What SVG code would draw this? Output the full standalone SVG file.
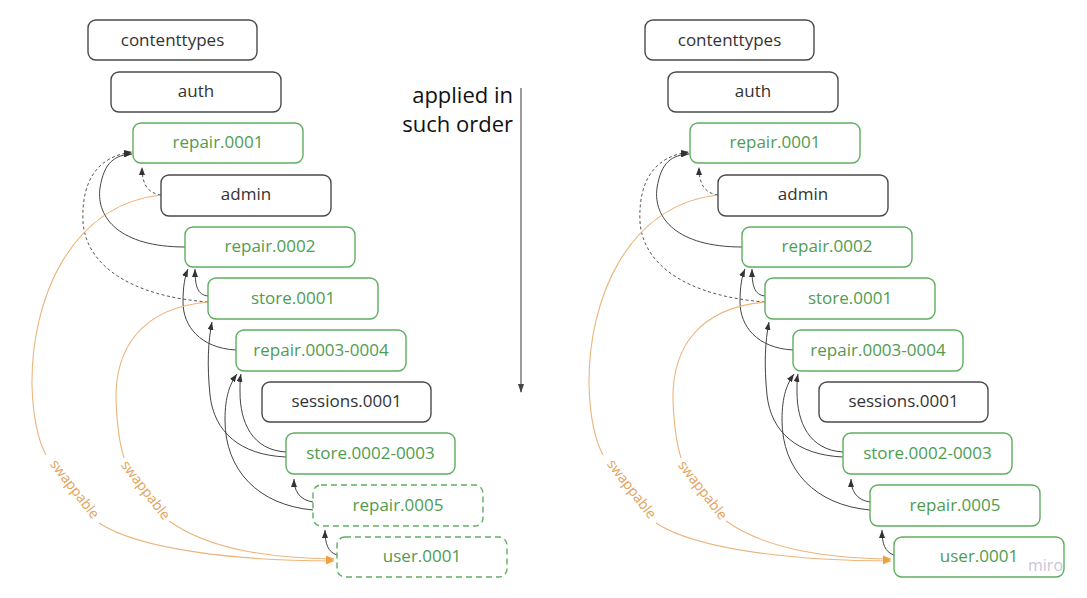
<svg xmlns="http://www.w3.org/2000/svg" width="1087" height="598" viewBox="0 0 1087 598">
<style>
.n rect{fill:#fff;stroke-width:1.4}
.g rect{stroke:#5fae5f}
.g text{fill:#4f9c4f}
.d rect{stroke:#4a4a4a}
.d text{fill:#333}
.ds rect{stroke-dasharray:6 4}
.n text{font-family:"Open Sans","Noto Sans",sans-serif;font-size:17px;text-anchor:middle}
.c{fill:none;stroke:#444;stroke-width:1}
.dash{stroke:#555;stroke-dasharray:3 2.5}
.o{fill:none;stroke:#ecb47c;stroke-width:1.1}
.lbl{font-family:"Open Sans","Noto Sans",sans-serif;font-size:14px;fill:#e4a055;text-anchor:middle}
</style>
<defs>
<marker id="ah" viewBox="0 0 8 6" refX="8" refY="3" markerWidth="8" markerHeight="6" orient="auto" markerUnits="userSpaceOnUse"><path d="M0,0 L8,3 L0,6 z" fill="#333"/></marker>
<marker id="ao" viewBox="0 0 8 7" refX="8" refY="3.5" markerWidth="8" markerHeight="7" orient="auto" markerUnits="userSpaceOnUse"><path d="M0,0 L8,3.5 L0,7 z" fill="#f0a040"/></marker>
</defs>
<rect width="1087" height="598" fill="#fff"/>

<g id="connectors-left">
<path class="c dash" d="M161,195 C148,193 142,185 142,167" marker-end="url(#ah)"/>
<path class="c" d="M185,247 C120,247 96,218 100,188 C104,162 115,155 132,154" marker-end="url(#ah)"/>
<path class="c dash" d="M208,302 C130,296 86,265 83,222 C81,178 100,156 132,152" marker-end="url(#ah)"/>
<path class="c" d="M208,296 C197,295 195,285 195,269" marker-end="url(#ah)"/>
<path class="c" d="M236,350 C200,348 183,326 183,302 C183,286 185,276 188,269" marker-end="url(#ah)"/>
<path class="c" d="M286,457 C240,455 214,432 210,395 C207,365 208,342 212,322" marker-end="url(#ah)"/>
<path class="c" d="M286,452 C252,450 240,422 240,392 C240,384 240,379 241,374" marker-end="url(#ah)"/>
<path class="c" d="M313,510 C258,505 225,470 225,420 C225,396 230,384 237,374" marker-end="url(#ah)"/>
<path class="c" d="M313,502 C299,500 294,490 294,479" marker-end="url(#ah)"/>
<path class="c" d="M337,555 C328,552 325,544 325,530" marker-end="url(#ah)"/>
<path class="o" d="M161,195 C70,205 31,300 32,385 C33,420 38,440 46,455"/>
<path class="o" d="M99,523 C140,550 240,561 334,561" marker-end="url(#ao)"/>
<text class="lbl" transform="translate(71,492) rotate(52)">swappable</text>
<path class="o" d="M208,302 C140,308 115,350 116,400 C117,428 120,445 124,458"/>
<path class="o" d="M169,521 C210,550 270,558 334,559" marker-end="url(#ao)"/>
<text class="lbl" transform="translate(142,493) rotate(52)">swappable</text>
</g>

<g id="connectors-right" transform="translate(557,0)">
<path class="c dash" d="M161,195 C148,193 142,185 142,167" marker-end="url(#ah)"/>
<path class="c" d="M185,247 C120,247 96,218 100,188 C104,162 115,155 132,154" marker-end="url(#ah)"/>
<path class="c dash" d="M208,302 C130,296 86,265 83,222 C81,178 100,156 132,152" marker-end="url(#ah)"/>
<path class="c" d="M208,296 C197,295 195,285 195,269" marker-end="url(#ah)"/>
<path class="c" d="M236,350 C200,348 183,326 183,302 C183,286 185,276 188,269" marker-end="url(#ah)"/>
<path class="c" d="M286,457 C240,455 214,432 210,395 C207,365 208,342 212,322" marker-end="url(#ah)"/>
<path class="c" d="M286,452 C252,450 240,422 240,392 C240,384 240,379 241,374" marker-end="url(#ah)"/>
<path class="c" d="M313,510 C258,505 225,470 225,420 C225,396 230,384 237,374" marker-end="url(#ah)"/>
<path class="c" d="M313,502 C299,500 294,490 294,479" marker-end="url(#ah)"/>
<path class="c" d="M337,555 C328,552 325,544 325,530" marker-end="url(#ah)"/>
<path class="o" d="M161,195 C70,205 31,300 32,385 C33,420 38,440 46,455"/>
<path class="o" d="M99,523 C140,550 240,561 334,561" marker-end="url(#ao)"/>
<text class="lbl" transform="translate(71,492) rotate(52)">swappable</text>
<path class="o" d="M208,302 C140,308 115,350 116,400 C117,428 120,445 124,458"/>
<path class="o" d="M169,521 C210,550 270,558 334,559" marker-end="url(#ao)"/>
<text class="lbl" transform="translate(142,493) rotate(52)">swappable</text>
</g>

<g id="order-arrow">
<line x1="521" y1="88" x2="521" y2="392" stroke="#666" stroke-width="1.3"/>
<path d="M518,384 L524,384 L521,393 z" fill="#444"/>
<text font-family="'Open Sans','Noto Sans',sans-serif" font-size="22" fill="#111" text-anchor="end"><tspan x="513" y="103">applied in</tspan><tspan x="513" y="132">such order</tspan></text>
</g>

<!-- left column -->
<g id="L-contenttypes" class="n d"><rect x="88" y="20" width="169" height="40" rx="8"/><text x="172.5" y="46">contenttypes</text></g>
<g id="L-auth" class="n d"><rect x="111" y="72" width="170" height="40" rx="8"/><text x="196" y="97">auth</text></g>
<g id="L-repair0001" class="n g"><rect x="133" y="123" width="170" height="40" rx="8"/><text x="218" y="148">repair.0001</text></g>
<g id="L-admin" class="n d"><rect x="161" y="175" width="170" height="41" rx="8"/><text x="246" y="200">admin</text></g>
<g id="L-repair0002" class="n g"><rect x="185" y="227" width="170" height="40" rx="8"/><text x="270" y="252">repair.0002</text></g>
<g id="L-store0001" class="n g"><rect x="208" y="278" width="170" height="41" rx="8"/><text x="293" y="304">store.0001</text></g>
<g id="L-repair0003-0004" class="n g"><rect x="236" y="330" width="170" height="41" rx="8"/><text x="321" y="356">repair.0003-0004</text></g>
<g id="L-sessions0001" class="n d"><rect x="262" y="382" width="169" height="40" rx="8"/><text x="346.5" y="407">sessions.0001</text></g>
<g id="L-store0002-0003" class="n g"><rect x="286" y="433" width="169" height="41" rx="8"/><text x="370.5" y="459">store.0002-0003</text></g>
<g id="L-repair0005" class="n g ds"><rect x="313" y="485" width="170" height="41" rx="8"/><text x="398" y="511">repair.0005</text></g>
<g id="L-user0001" class="n g ds"><rect x="337" y="537" width="170" height="40" rx="8"/><text x="422" y="562">user.0001</text></g>

<!-- right column -->
<g id="R-contenttypes" class="n d"><rect x="645" y="20" width="169" height="40" rx="8"/><text x="729.5" y="46">contenttypes</text></g>
<g id="R-auth" class="n d"><rect x="668" y="72" width="170" height="40" rx="8"/><text x="753" y="97">auth</text></g>
<g id="R-repair0001" class="n g"><rect x="690" y="123" width="170" height="40" rx="8"/><text x="775" y="148">repair.0001</text></g>
<g id="R-admin" class="n d"><rect x="718" y="175" width="170" height="41" rx="8"/><text x="803" y="200">admin</text></g>
<g id="R-repair0002" class="n g"><rect x="742" y="227" width="170" height="40" rx="8"/><text x="827" y="252">repair.0002</text></g>
<g id="R-store0001" class="n g"><rect x="765" y="278" width="170" height="41" rx="8"/><text x="850" y="304">store.0001</text></g>
<g id="R-repair0003-0004" class="n g"><rect x="793" y="330" width="170" height="41" rx="8"/><text x="878" y="356">repair.0003-0004</text></g>
<g id="R-sessions0001" class="n d"><rect x="819" y="382" width="169" height="40" rx="8"/><text x="903.5" y="407">sessions.0001</text></g>
<g id="R-store0002-0003" class="n g"><rect x="843" y="433" width="169" height="41" rx="8"/><text x="927.5" y="459">store.0002-0003</text></g>
<g id="R-repair0005" class="n g"><rect x="870" y="485" width="170" height="41" rx="8"/><text x="955" y="511">repair.0005</text></g>
<g id="R-user0001" class="n g"><rect x="894" y="537" width="170" height="40" rx="8"/><text x="979" y="562">user.0001</text></g>

<text x="1028" y="571" font-family="'Open Sans','Noto Sans',sans-serif" font-size="16" fill="#c9c6d8">miro</text>
</svg>
